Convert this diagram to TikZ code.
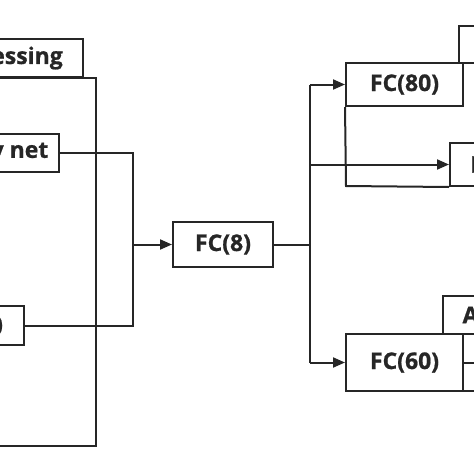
\documentclass[tikz,border=0pt]{standalone}
\usepackage{fontspec}
\setmainfont{Open Sans}[BoldFeatures={FakeBold=0.8}]
\usetikzlibrary{arrows.meta}
\definecolor{ink}{RGB}{38,38,38}
\begin{document}
\begin{tikzpicture}[x=1pt,y=-1pt,
  every node/.style={font=\fontsize{23}{27}\selectfont\bfseries, text=ink},
  blk/.style={draw=ink, line width=2pt, fill=white, inner sep=0pt},
  wire/.style={draw=ink, line width=2pt},
  arr/.style={wire, -{Triangle[length=12pt,width=10pt]}}]
\useasboundingbox (0,0) rectangle (474,474);
\begin{scope}
\clip (0,0) rectangle (474,474);
% left column
\node[blk, minimum width=112pt, minimum height=38pt] (proc) at (27,58) {essing};
\node[blk, minimum width=79pt, minimum height=38pt] (ynet) at (19.5,153) {y net};
\node[blk, minimum width=63pt, minimum height=39pt] (zero) at (-7.5,325.5) {0)};
% middle
\node[blk, minimum width=100pt, minimum height=45pt] (fc8) at (223,244.5) {FC(8)};
% right column
\node[blk, minimum width=117pt, minimum height=43pt] (fc80) at (404.5,84.5) {FC(80)};
\node[blk, minimum width=117pt, minimum height=57pt] (fc60) at (404.5,362.5) {FC(60)};
\node[blk, minimum width=60pt, minimum height=37pt] (topb) at (489,44.5) {};
\node[blk, minimum width=48pt, minimum height=43pt] (ibox) at (474,164.5) {I};
\node[blk, minimum width=55pt, minimum height=38pt] (abox) at (470.5,315) {A};
\node[blk, minimum width=40pt, minimum height=28.5pt] (r1) at (483,348.25) {};
\node[blk, minimum width=40pt, minimum height=28.5pt] (r2) at (483,376.75) {};
\end{scope}
% wires
\coordinate (loopA) at (0,78);
\coordinate (loopB) at (0,446);
\draw[wire] (loopA) -- (96,78) -- (96,446) -- (loopB);
\draw[wire] (ynet.east) -- (133,153) -- (133,325.5) -- (zero.east);
\draw[arr] (133,244.5) -- (fc8.west);
\draw[wire] (fc8.east) -- (310,244.5);
\draw[wire] (310,84.5) -- (310,362.5);
\draw[arr] (310,84.5) -- (fc80.west);
\draw[arr] (310,164.5) -- (ibox.west);
\draw[arr] (310,362.5) -- (fc60.west);
\draw[wire] (fc80.south west) -- (346,186) -- (ibox.south west);
\end{tikzpicture}
\end{document}
